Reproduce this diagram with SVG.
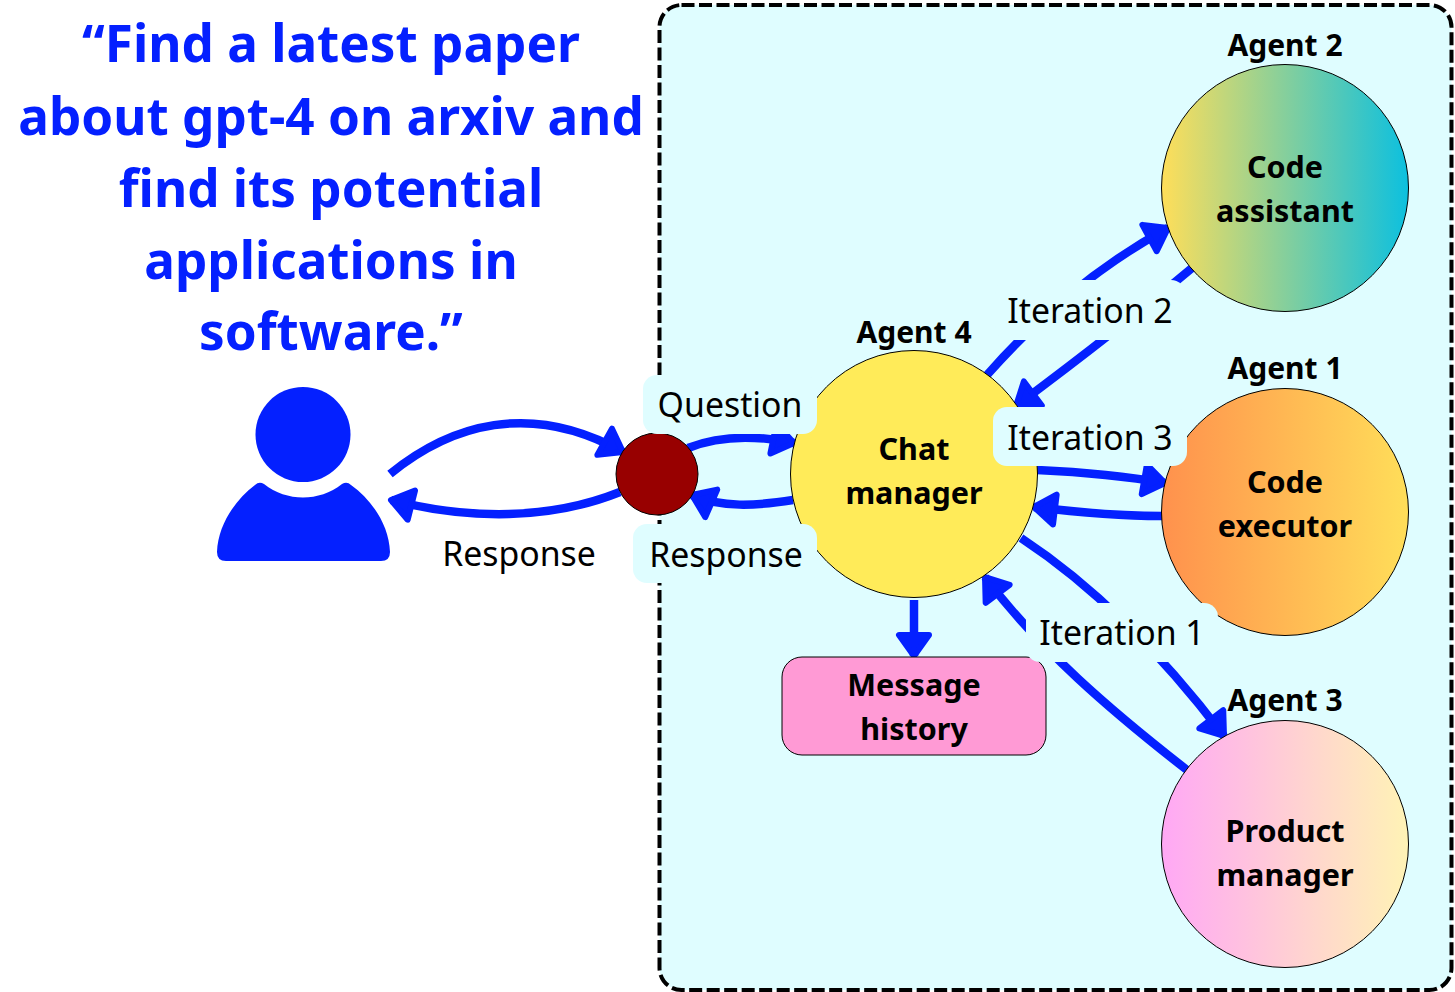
<svg xmlns="http://www.w3.org/2000/svg" width="1455" height="992" viewBox="0 0 1455 992">
<style>
text{font-family:"Noto Sans","Liberation Sans",sans-serif;text-anchor:middle;fill:#000}
.t{font-size:51.2px;font-weight:700;fill:#0420ff}
.n{font-size:30.5px;font-weight:700}
.g{font-size:30px;font-weight:700}
.l{font-size:33.8px}
.c{fill:none;stroke:#0420ff;stroke-width:8.500;marker-end:url(#a)}
.b{fill:#dffdff}
.o{stroke:#000;stroke-width:1}
</style>
<defs>
<marker id="a" markerUnits="userSpaceOnUse" markerWidth="44" markerHeight="44" refX="30" refY="20" orient="auto" viewBox="0 0 44 40">
<path d="M9 5L30 20L9 35Z" fill="#0420ff" stroke="#0420ff" stroke-width="6" stroke-linejoin="round"/>
</marker>
<linearGradient id="g2"><stop offset="0" stop-color="#ffde59"/><stop offset="1" stop-color="#0cc0df"/></linearGradient>
<linearGradient id="g1"><stop offset="0" stop-color="#ff914d"/><stop offset="1" stop-color="#ffde59"/></linearGradient>
<linearGradient id="g3"><stop offset="0" stop-color="#ffa8f5"/><stop offset="1" stop-color="#fff3b5"/></linearGradient>
</defs>
<rect x="659.500" y="5" width="792" height="985" rx="22" fill="#dffdff" stroke="#000" stroke-width="4" stroke-dasharray="13 4.500"/>
<g id="title">
<text class="t" x="331" y="62">“Find a latest paper</text>
<text class="t" x="331" y="135">about gpt-4 on arxiv and</text>
<text class="t" x="331" y="207">find its potential</text>
<text class="t" x="331" y="279">applications in</text>
<text class="t" x="331" y="350">software.”</text>
</g>
<g id="user" fill="#0420ff">
<circle cx="303" cy="434.500" r="47.500"/>
<path d="M217 552C218 525 235 500 255 485Q259 481 264 484C287 502 319 502 342 484Q347 481 351 485C372 500 389 525 390 552Q390 561 381 561L226 561Q217 561 217 552Z"/>
</g>
<g id="connectors">
<path class="c" d="M390 474C450 425 530 400 623 452"/>
<path class="c" d="M620 492C550 520 470 520 391 500"/>
<path class="c" d="M688 448C720 435 755 435 794 443"/>
<path class="c" d="M793 500C755 506 722 508 692 495"/>
<path class="c" d="M987 375C1040 315 1100 265 1168 228"/>
<path class="c" d="M1192 268C1130 320 1075 362 1016 406"/>
<path class="c" d="M1037 470C1080 472 1125 476 1165 483"/>
<path class="c" d="M1162 516C1120 516 1075 512 1034 507"/>
<path class="c" d="M1021 538C1100 590 1170 665 1224 736"/>
<path class="c" d="M1187 770C1110 710 1040 650 985 577"/>
<path class="c" d="M914 600V656"/>
</g>
<g id="agent4"><circle class="o" cx="914" cy="474" r="123.500" fill="#ffeb59"/>
<text class="g" x="914" y="343">Agent 4</text><text class="n" x="914" y="460">Chat</text><text class="n" x="914" y="504">manager</text></g>
<g id="agent2"><circle class="o" cx="1285" cy="188" r="123.500" fill="url(#g2)"/>
<text class="g" x="1285" y="56">Agent 2</text><text class="n" x="1285" y="178">Code</text><text class="n" x="1285" y="222">assistant</text></g>
<g id="agent1"><circle class="o" cx="1285" cy="512" r="123.500" fill="url(#g1)"/>
<text class="g" x="1285" y="379">Agent 1</text><text class="n" x="1285" y="493">Code</text><text class="n" x="1285" y="537">executor</text></g>
<g id="agent3"><circle class="o" cx="1285" cy="844" r="123.500" fill="url(#g3)"/>
<text class="g" x="1285" y="711">Agent 3</text><text class="n" x="1285" y="842">Product</text><text class="n" x="1285" y="886">manager</text></g>
<g id="message-history"><rect class="o" x="782" y="657" width="264" height="98" rx="20" fill="#ff9ad5"/>
<text class="n" x="914" y="696">Message</text><text class="n" x="914" y="740">history</text></g>
<g id="source"><circle class="o" cx="657" cy="474" r="41" fill="#980000"/></g>
<g id="labels">
<rect class="b" x="643" y="375" width="174" height="59" rx="14"/><text class="l" x="730" y="417">Question</text>
<rect class="b" x="633" y="524" width="184" height="59" rx="14"/><text class="l" x="726" y="567">Response</text>
<rect class="b" x="995" y="280" width="190" height="60" rx="14"/><text class="l" x="1090" y="323">Iteration 2</text>
<rect class="b" x="993" y="407" width="194" height="59" rx="14"/><text class="l" x="1090" y="450">Iteration 3</text>
<rect class="b" x="1026" y="603" width="192" height="59" rx="14"/><text class="l" x="1122" y="645">Iteration 1</text>
<text class="l" x="519" y="566">Response</text>
</g>
</svg>
